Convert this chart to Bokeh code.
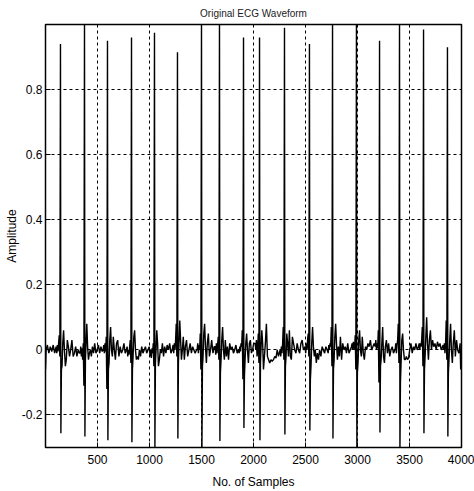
from bokeh.plotting import figure
from bokeh.models import Range1d, FixedTicker
from bokeh.embed import file_html
from bokeh.resources import INLINE

# ---- data ----
r_peaks = [144, 375, 596, 827, 1048, 1269, 1500, 1673, 1904, 2058, 2298, 2538, 2760, 2990, 3212, 3404, 3635, 3865]
r_amp = [0.94, 1.02, 0.95, 0.96, 0.975, 0.915, 1.02, 1.02, 0.96, 0.96, 0.99, 0.94, 1.02, 1.02, 0.95, 1.02, 0.985, 0.93]
s_amp = [-0.256, -0.266, -0.278, -0.284, -0.30, -0.272, -0.31, -0.28, -0.24, -0.278, -0.26, -0.248, -0.272, -0.31, -0.254, -0.31, -0.256, -0.266]

head_x = [0, 6, 18, 32, 46, 60, 74, 88]
head_y = [-0.06, 0.0, 0.015, -0.01, 0.01, -0.005, 0.015, -0.01]
tail_x = [3992, 3998]
tail_y = [-0.06, 0.0]

pre_off = [-42, -36, -30, -24, -18, -12, -6]
pre_vals = [
    [0.01, -0.01, 0.015, -0.005, 0.02, 0.045, -0.02],
    [-0.01, 0.01, -0.02, 0.005, -0.03, 0.02, -0.11],
    [0.0, 0.015, -0.01, 0.02, -0.005, 0.04, -0.12],
    [0.01, -0.02, 0.0, -0.015, 0.01, 0.03, -0.04],
    [-0.02, 0.0, -0.025, 0.005, -0.01, 0.02, -0.05],
    [0.015, -0.01, 0.02, 0.0, 0.03, 0.08, -0.02],
    [0.0, 0.02, -0.01, 0.015, 0.0, 0.05, -0.06],
    [0.01, -0.015, 0.02, -0.01, 0.015, 0.04, -0.03],
    [-0.01, 0.01, -0.005, 0.02, 0.01, 0.06, -0.09],
    [0.02, 0.0, 0.03, -0.02, 0.0, 0.05, -0.04],
    [0.0, -0.02, 0.01, -0.01, 0.02, 0.07, -0.03],
    [0.01, -0.01, 0.02, 0.0, 0.03, 0.05, -0.02],
    [-0.01, 0.015, 0.0, 0.02, 0.01, 0.07, -0.05],
    [0.02, 0.0, 0.025, 0.01, 0.0, 0.045, -0.06],
    [0.01, 0.03, 0.0, 0.02, 0.005, 0.06, -0.1],
    [0.0, 0.02, -0.01, 0.015, 0.03, 0.08, -0.04],
    [0.02, 0.0, 0.02, 0.01, 0.03, 0.07, -0.05],
    [0.015, 0.0, 0.02, -0.01, 0.02, 0.09, -0.03],
]

post_off = [9, 15, 22, 30, 38, 47, 56, 66, 76, 87, 98, 110, 122, 134, 146, 158, 170, 182]
post_vals = [
    [-0.06, -0.05, 0.02, 0.06, 0.0, -0.05, -0.03, 0.03, 0.01, -0.02, 0.0, 0.03, -0.02, -0.01, 0.01, -0.02, 0.0, -0.01],
    [-0.03, 0.02, 0.08, 0.01, -0.03, -0.01, 0.0, -0.02, 0.01, -0.01, 0.02, -0.01, 0.0, 0.015, -0.01, 0.01, -0.005, 0.01],
    [-0.06, -0.04, 0.03, 0.07, 0.0, -0.02, 0.04, 0.0, -0.03, 0.02, 0.03, -0.02, 0.01, -0.01, 0.0, 0.02, -0.01, 0.0],
    [-0.06, -0.02, 0.04, 0.06, 0.0, -0.03, -0.02, -0.03, 0.0, -0.02, 0.01, -0.01, 0.0, 0.01, -0.01, 0.0, 0.01, 0.0],
    [-0.04, 0.0, 0.06, 0.02, -0.05, -0.03, 0.0, -0.01, 0.02, -0.02, 0.01, -0.01, 0.015, 0.0, 0.02, -0.01, 0.0, 0.01],
    [-0.04, 0.02, 0.09, 0.03, -0.03, 0.0, 0.04, -0.03, 0.01, 0.03, -0.02, 0.0, 0.02, -0.01, 0.01, 0.0, -0.01, 0.0],
    [-0.05, -0.02, 0.05, 0.08, 0.01, -0.04, 0.02, 0.05, -0.02, 0.0, 0.03, -0.01, 0.01, -0.02, 0.0, 0.01, -0.01, 0.0],
    [-0.07, -0.03, 0.03, 0.07, 0.0, -0.03, 0.03, -0.02, 0.01, -0.03, 0.02, 0.0, 0.01, -0.01, 0.0, 0.015, -0.01, 0.0],
    [-0.08, -0.03, 0.02, 0.05, 0.0, -0.04, 0.02, 0.03, -0.01, 0.0, 0.02, -0.01, 0.0, 0.01, -0.01, 0.0, 0.01, 0.0],
    [-0.04, 0.01, 0.06, 0.02, -0.06, -0.02, 0.02, 0.08, -0.02, -0.03, -0.04, -0.03, -0.035, -0.03, -0.02, -0.025, 0.0, -0.02],
    [-0.05, -0.02, 0.05, 0.02, -0.02, 0.06, -0.02, -0.03, 0.04, 0.02, 0.0, -0.01, 0.02, 0.0, -0.01, 0.02, 0.03, 0.0],
    [-0.09, -0.05, 0.02, 0.07, 0.01, -0.02, 0.0, -0.04, -0.01, -0.03, 0.0, -0.02, 0.01, 0.0, -0.01, 0.01, 0.0, 0.0],
    [-0.06, -0.03, 0.04, 0.08, 0.02, -0.03, 0.01, -0.02, 0.04, -0.03, 0.02, 0.0, 0.01, -0.01, 0.02, -0.01, 0.0, 0.01],
    [-0.07, -0.04, 0.03, 0.06, 0.0, -0.02, 0.04, -0.01, -0.03, 0.01, 0.0, 0.02, 0.01, 0.03, 0.0, 0.01, 0.02, 0.0],
    [-0.05, -0.03, 0.02, 0.07, -0.02, -0.04, 0.01, 0.03, -0.01, 0.02, -0.02, 0.0, 0.01, -0.01, 0.0, 0.01, 0.0, -0.01],
    [-0.1, -0.04, 0.03, 0.05, 0.0, -0.03, -0.03, -0.02, -0.03, -0.025, 0.0, 0.02, -0.01, 0.01, 0.0, 0.02, 0.0, 0.01],
    [-0.06, -0.02, 0.04, 0.1, 0.02, -0.03, 0.03, 0.06, 0.0, 0.03, 0.01, 0.02, 0.0, 0.025, 0.01, 0.02, 0.0, 0.01],
    [-0.07, -0.03, 0.03, 0.08, 0.0, -0.04, 0.02, 0.06, -0.02, 0.03, 0.0, -0.01, 0.02, 0.01, -0.03, -0.06, 0.02, -0.06],
]

x_ticks = [500, 1000, 1500, 2000, 2500, 3000, 3500, 4000]
y_ticks = [-0.2, 0, 0.2, 0.4, 0.6, 0.8]

# ---- assemble the polyline from the read points ----
xs = list(head_x)
ys = list(head_y)
n = len(r_peaks)
for i in range(n):
    r = r_peaks[i]
    limit = r_peaks[i + 1] - 44 if i + 1 < n else 3990
    for o, v in zip(pre_off, pre_vals[i]):
        xs.append(r + o)
        ys.append(v)
    xs.append(r)
    ys.append(r_amp[i])
    xs.append(r + 4)
    ys.append(s_amp[i])
    for o, v in zip(post_off, post_vals[i]):
        if r + o < limit:
            xs.append(r + o)
            ys.append(v)
xs += tail_x
ys += tail_y

FONT = "Liberation Sans"

p = figure(width=474, height=491, output_backend="svg", toolbar_location=None,
           x_range=Range1d(0, 4000), y_range=Range1d(-0.3, 1.0),
           min_border_left=45, min_border_right=13, min_border_top=24, min_border_bottom=44,
           title="Original ECG Waveform")
p.title.text_font = FONT
p.title.text_font_size = "10px"
p.title.text_font_style = "normal"
p.title.align = "center"
p.title.text_color = "#222222"
p.title.standoff = 11

p.line(xs, ys, line_color="black", line_width=1.4)

p.xaxis.ticker = FixedTicker(ticks=x_ticks)
p.yaxis.ticker = FixedTicker(ticks=y_ticks)
p.xaxis.major_label_overrides = {t: str(t) for t in x_ticks}
p.yaxis.major_label_overrides = {-0.2: "-0.2", 0: "0", 0.2: "0.2", 0.4: "0.4", 0.6: "0.6", 0.8: "0.8"}

for ax in (p.xaxis[0], p.yaxis[0]):
    ax.major_tick_in = 5
    ax.major_tick_out = 0
    ax.minor_tick_line_color = None
    ax.axis_line_color = "black"
    ax.major_tick_line_color = "black"
    ax.major_label_text_font = FONT
    ax.major_label_text_font_size = "12px"
    ax.major_label_text_color = "black"
    ax.axis_label_text_font = FONT
    ax.axis_label_text_font_size = "12px"
    ax.axis_label_text_font_style = "normal"
    ax.axis_label_text_color = "black"

p.xaxis.axis_label = "No. of Samples"
p.yaxis.axis_label = "Amplitude"
p.xaxis.major_label_standoff = 7
p.xaxis.axis_label_standoff = 8
p.yaxis.major_label_standoff = 3
p.yaxis.axis_label_standoff = 0

p.outline_line_color = "black"
p.outline_line_width = 1.5
p.outline_line_alpha = 1

p.xgrid.grid_line_color = "black"
p.ygrid.grid_line_color = "black"
p.xgrid.grid_line_dash = "3 3"
p.ygrid.grid_line_dash = "3 3"
p.xgrid.grid_line_width = 1
p.ygrid.grid_line_width = 1
p.background_fill_color = "white"
p.border_fill_color = "white"

open("out.html", "w").write(file_html(p, INLINE))
